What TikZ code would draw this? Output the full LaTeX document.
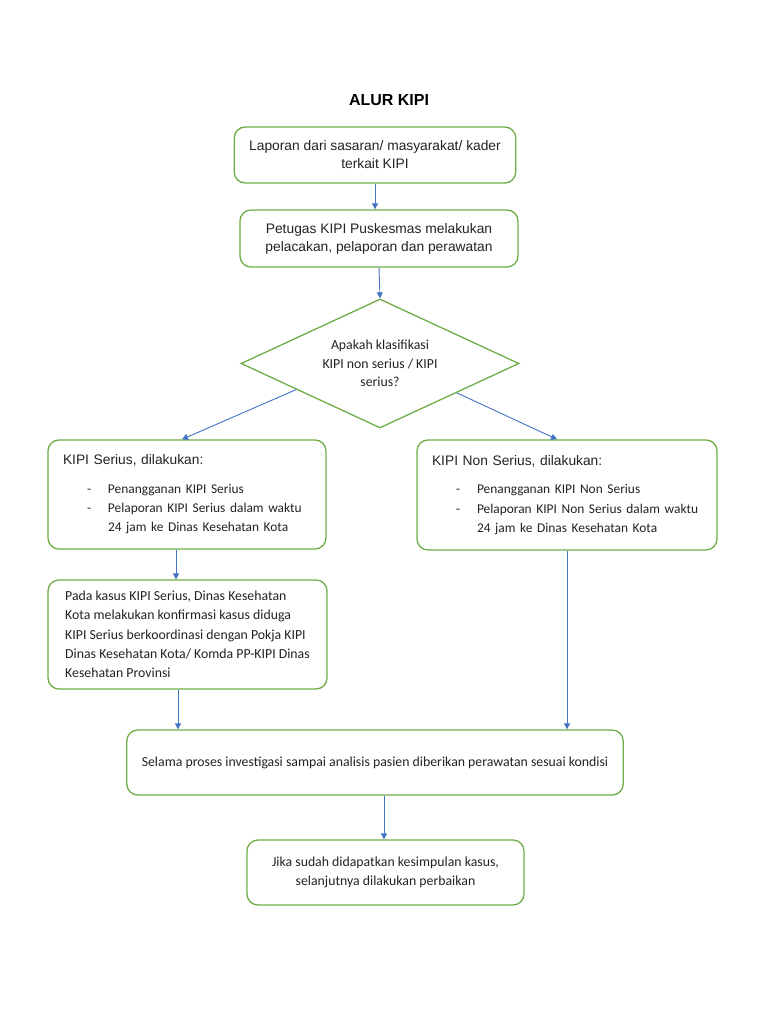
\documentclass[tikz,border=0pt]{standalone}
\usepackage{fontspec}
\setmainfont{Carlito}
\newfontfamily\arialfont{Liberation Sans}
\usetikzlibrary{shapes.geometric, arrows.meta, positioning, calc}
\definecolor{KIPIGreen}{RGB}{112,173,71}
\definecolor{KIPIBlue}{RGB}{68,114,196}
\definecolor{KIPIText}{RGB}{35,35,35}
\tikzset{
  stepbox/.style={
    rectangle, rounded corners=11pt,
    draw=KIPIGreen, line width=1.3pt, fill=white,
    text=KIPIText, align=center,
    inner xsep=15pt, inner ysep=0pt,
    font=\fontsize{13.8}{19.3}\selectfont
  },
  headbox/.style={stepbox, font=\arialfont\fontsize{13.8}{18}\selectfont},
  listbox/.style={stepbox, align=left},
  askbox/.style={
    diamond, aspect=2.15, draw=KIPIGreen, line width=1.3pt, fill=white,
    text=KIPIText, align=center, inner sep=0pt,
    font=\fontsize{13.8}{18.5}\selectfont
  },
  arr/.style={-{Triangle[length=6pt, width=6pt]}, draw=KIPIBlue, line width=0.9pt},
  ttl/.style={font=\arialfont\bfseries\fontsize{16}{18}\selectfont, text=black}
}
\newcommand{\dashitem}[1]{\mbox{\fontsize{13.4}{19.3}\selectfont\hspace*{24pt}\makebox[21pt][l]{-}#1}}
\newcommand{\dashcont}[1]{\mbox{\fontsize{13.4}{19.3}\selectfont\hspace*{45pt}#1}}

\begin{document}
\begin{tikzpicture}[x=1pt, y=-1pt]
  \useasboundingbox[fill=white] (0,0) rectangle (768,1024);

  \node[ttl] (title) at (389,100) {ALUR KIPI};

  \node[headbox, minimum width=278pt, minimum height=56pt]
    (lapor) at (375,155) {Laporan dari sasaran/ masyarakat/ kader\\terkait KIPI};
  \node[headbox, minimum width=278pt, minimum height=57pt]
    (petugas) at (379,238.5) {Petugas KIPI Puskesmas melakukan\\pelacakan, pelaporan dan perawatan};
  \node[askbox, minimum width=278pt, minimum height=129pt]
    (klas) at (380,363.5) {Apakah klasifikasi\\KIPI non serius / KIPI\\serius?};

  \node[listbox, minimum width=278pt, minimum height=109pt, text width=248pt]
    (serius) at (187,494.5) {\mbox{\arialfont KIPI Serius, dilakukan:}\\[9pt]
      \dashitem{Penangganan KIPI Serius}\\
      \dashitem{Pelaporan KIPI Serius dalam waktu}\\
      \dashcont{24 jam ke Dinas Kesehatan Kota}};
  \node[listbox, minimum width=300pt, minimum height=110pt, text width=270pt]
    (nonserius) at (567,495) {\mbox{\arialfont KIPI Non Serius, dilakukan:}\\[9pt]
      \dashitem{Penangganan KIPI Non Serius}\\
      \dashitem{Pelaporan KIPI Non Serius dalam waktu}\\
      \dashcont{24 jam ke Dinas Kesehatan Kota}};

  \node[listbox, minimum width=279pt, minimum height=109pt]
    (konfirm) at (187.5,634.5) {Pada kasus KIPI Serius, Dinas Kesehatan\\
      Kota melakukan konfirmasi kasus diduga\\
      KIPI Serius berkoordinasi dengan Pokja KIPI\\
      Dinas Kesehatan Kota/ Komda PP-KIPI Dinas\\
      Kesehatan Provinsi};

  \node[stepbox, minimum width=494pt, minimum height=65pt]
    (rawat) at (375,762.5) {Selama proses investigasi sampai analisis pasien diberikan perawatan sesuai kondisi};
  \node[stepbox, minimum width=277pt, minimum height=65pt]
    (simpul) at (385.5,872.5) {Jika sudah didapatkan kesimpulan kasus,\\selanjutnya dilakukan perbaikan};

  % alur
  \draw[arr] (lapor.south) -- (lapor.south |- petugas.north);
  \draw[arr] (petugas.south) -- (klas.north);
  \draw[arr] ($(klas.west)!0.4!(klas.south)$) -- ([xshift=-5pt]serius.north);
  \draw[arr] ($(klas.south)!0.55!(klas.east)$) -- ([xshift=-10pt]nonserius.north);
  \draw[arr] ([xshift=-11pt]serius.south) -- ([xshift=-11pt]serius.south |- konfirm.north);
  \draw[arr] ([xshift=-9.5pt]konfirm.south) -- ([xshift=-9.5pt]konfirm.south |- rawat.north);
  \draw[arr] (nonserius.south) -- (nonserius.south |- rawat.north);
  \draw[arr] ([xshift=9pt]rawat.south) -- ([xshift=9pt]rawat.south |- simpul.north);
\end{tikzpicture}
\end{document}
